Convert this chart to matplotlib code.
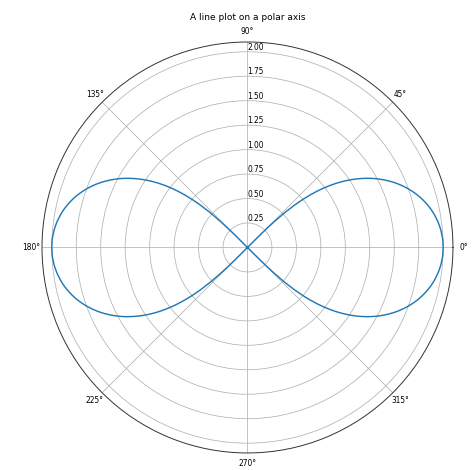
import numpy as np
import matplotlib
matplotlib.use("Agg")
import matplotlib.pyplot as plt

# Upper half of the right lobe: angle (degrees) and radius
half_angles_deg = [0, 1, 2, 3, 4, 5, 6, 7, 8, 9, 10, 11, 12, 13, 14, 15, 16, 17, 18, 19,
                   20, 21, 22, 23, 24, 25, 26, 27, 28, 29, 30, 31, 32, 33, 34, 35, 36, 37,
                   38, 39, 40, 41, 42, 43, 44, 44.5, 44.8, 45]
half_radii = [2.000, 1.999, 1.998, 1.995, 1.990, 1.985, 1.978, 1.970, 1.961, 1.950,
              1.939, 1.926, 1.912, 1.896, 1.879, 1.861, 1.842, 1.821, 1.799, 1.775,
              1.750, 1.724, 1.696, 1.667, 1.636, 1.603, 1.569, 1.533, 1.496, 1.456,
              1.414, 1.370, 1.324, 1.276, 1.224, 1.170, 1.112, 1.050, 0.984, 0.912,
              0.833, 0.746, 0.647, 0.528, 0.374, 0.264, 0.167, 0.000]
lobe_offsets_deg = [0, 180]

r_ticks = [0.25, 0.5, 0.75, 1.0, 1.25, 1.5, 1.75, 2.0]
r_max = 2.1
title = "A line plot on a polar axis"

# full lobe: lower half (mirrored) then upper half
lobe_angles = [-a for a in half_angles_deg[::-1]] + half_angles_deg[1:]
lobe_radii = half_radii[::-1] + half_radii[1:]

dpi = 54
fig = plt.figure(figsize=(474 / dpi, 470 / dpi), dpi=dpi)
ax = fig.add_axes([0.0886, 0.0362, 0.867, 0.8745], projection="polar")

theta_all = []
r_all = []
for off in lobe_offsets_deg:
    theta_all.extend(np.deg2rad(np.array(lobe_angles) + off))
    r_all.extend(lobe_radii)
ax.plot(theta_all, r_all, color="#1f77b4", linewidth=1.9)

ax.set_rmax(r_max)
ax.set_rmin(0)
ax.set_rticks(r_ticks)
ax.set_rlabel_position(90)
ax.grid(True, color="#b0b0b0", linewidth=1.0)
ax.spines["polar"].set_linewidth(1.3)
ax.spines["polar"].set_color("#333333")
ax.set_title(title, va="bottom")

fig.savefig("out.png", dpi=dpi)
